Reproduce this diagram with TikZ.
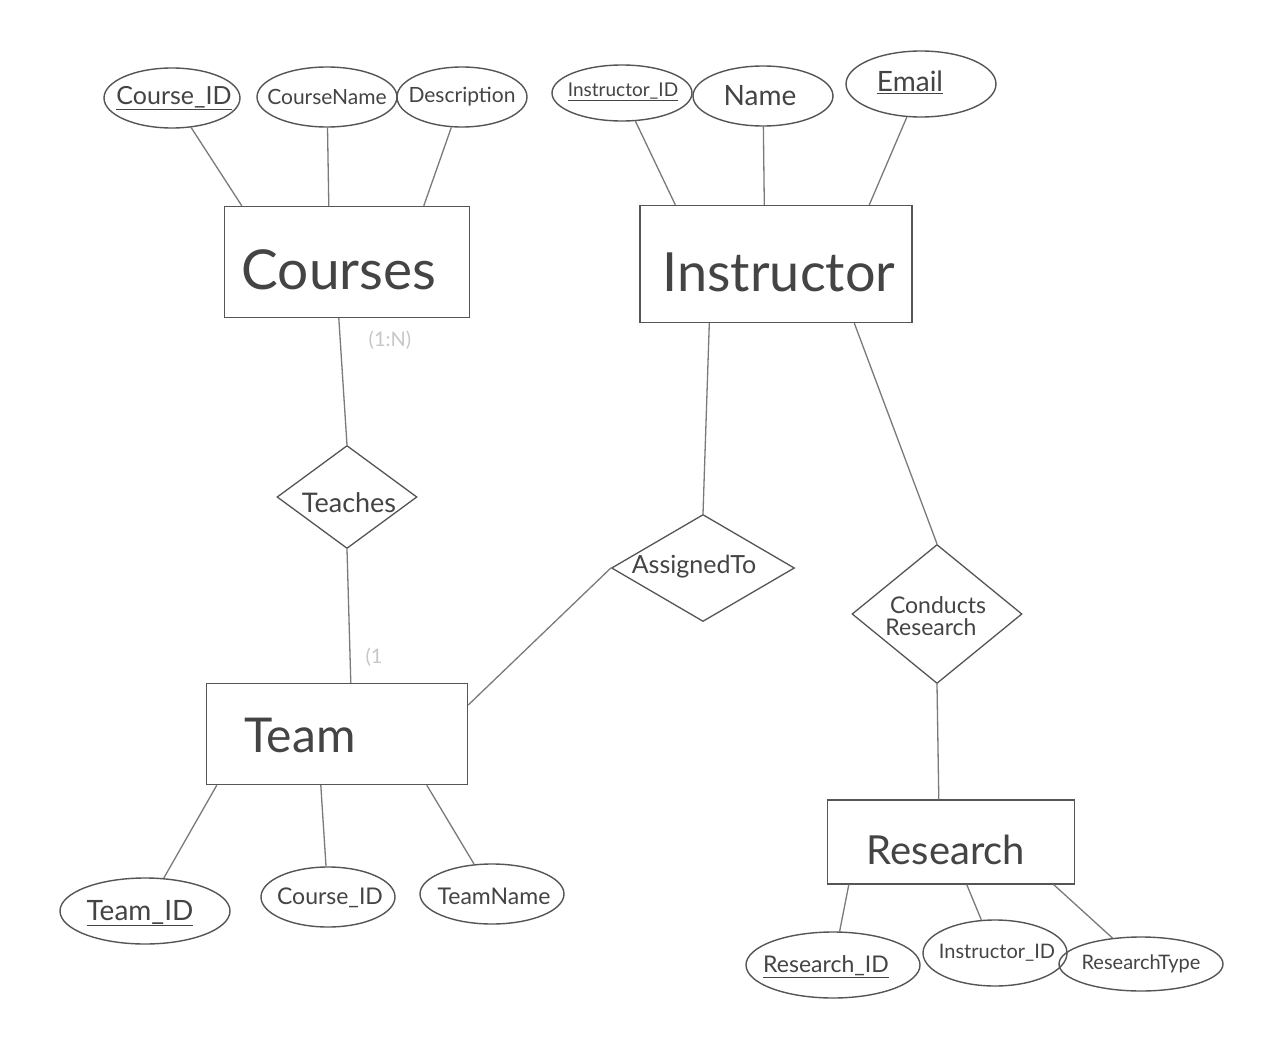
\documentclass[tikz,border=0pt]{standalone}
\usepackage{fontspec}
\setmainfont{Lato}
\usetikzlibrary{shapes.geometric,calc}
\newcommand\myfs[1]{\fontsize{#1}{#1}\selectfont}
\definecolor{pencil}{HTML}{555555}
\definecolor{lightpencil}{HTML}{7A7A7A}
\definecolor{inkt}{HTML}{444444}
\begin{document}
\begin{tikzpicture}[x=1pt,y=1pt,
  ent/.style={draw=pencil, line width=1.4pt, rectangle, inner sep=0pt},
  attr/.style={draw=pencil, line width=1.4pt, ellipse, inner sep=0pt},
  rel/.style={draw=pencil, line width=1.3pt, diamond, inner sep=0pt},
  txt/.style={text=inkt, inner sep=0pt},
  conn/.style={draw=lightpencil, line width=1.3pt},
  faint/.style={text=black!22, inner sep=0pt}]
\useasboundingbox[fill=white] (0,0) rectangle (1288,-1049);

% entities
\node[ent, minimum width=245, minimum height=111] (courses) at (347,-262) {};
\node[txt] (coursesT) at (339,-270) {\myfs{55}Courses};
\node[ent, minimum width=272, minimum height=117] (instr) at (776,-264) {};
\node[txt] (instrT) at (779,-272) {\myfs{54}Instructor};
\node[ent, minimum width=261, minimum height=101] (team) at (337,-734) {};
\node[txt] (teamT) at (300,-735) {\myfs{48}Team};
\node[ent, minimum width=247, minimum height=84] (research) at (951,-842) {};
\node[txt] (researchT) at (946,-850) {\myfs{40}Research};

% relationships
\node[rel, minimum width=140, minimum height=103] (teaches) at (347,-497) {};
\node[txt] (teachesT) at (349,-503) {\myfs{27}Teaches};
\node[rel, minimum width=183, minimum height=107] (assigned) at (703,-568) {};
\node[txt] (assignedT) at (694,-567) {\myfs{25}AssignedTo};
\node[rel, minimum width=170, minimum height=139] (conducts) at (937,-614) {};
\node[txt, align=center] (conductsT) at (931,-616) {\myfs{23}\hspace*{14pt}Conducts\\[4pt]\myfs{23}Research};

% Courses attributes
\node[attr, minimum width=136, minimum height=60] (ca1) at (172,-98) {};
\node[txt] (ca1T) at (174,-98) {\myfs{25}\underline{Course\_ID}};
\node[attr, minimum width=140, minimum height=60] (ca2) at (327,-97) {};
\node[txt] (ca2T) at (327,-97) {\myfs{21}CourseName};
\node[attr, minimum width=130, minimum height=60] (ca3) at (462,-97) {};
\node[txt] (ca3T) at (462,-97) {\myfs{21}Description};

% Instructor attributes
\node[attr, minimum width=140, minimum height=56] (ia1) at (622,-93) {};
\node[txt] (ia1T) at (623,-92) {\myfs{19}\underline{Instructor\_ID}};
\node[attr, minimum width=140, minimum height=60] (ia2) at (763,-96) {};
\node[txt] (ia2T) at (760,-96) {\myfs{28}Name};
\node[attr, minimum width=150, minimum height=66] (ia3) at (921,-84) {};
\node[txt] (ia3T) at (910,-82) {\myfs{28}\underline{Email}};

% Team attributes
\node[attr, minimum width=170, minimum height=66] (ta1) at (145,-911) {};
\node[txt] (ta1T) at (140,-913) {\myfs{28}\underline{Team\_ID}};
\node[attr, minimum width=134, minimum height=60] (ta2) at (328,-897) {};
\node[txt] (ta2T) at (330,-898) {\myfs{23}Course\_ID};
\node[attr, minimum width=144, minimum height=60] (ta3) at (492,-894) {};
\node[txt] (ta3T) at (494,-896) {\myfs{23}TeamName};

% Research attributes
\node[attr, minimum width=174, minimum height=66] (ra1) at (833,-965) {};
\node[txt] (ra1T) at (826,-967) {\myfs{23}\underline{Research\_ID}};
\node[attr, minimum width=144, minimum height=66] (ra2) at (995,-953) {};
\node[txt] (ra2T) at (997,-953) {\myfs{20}Instructor\_ID};
\node[attr, minimum width=164, minimum height=54] (ra3) at (1141,-964) {};
\node[txt] (ra3T) at (1141,-964) {\myfs{20}ResearchType};

% faint cardinalities
\node[faint] (card1) at (390,-340) {\myfs{20}(1:N)};
\node[faint] (card2) at (374,-657) {\myfs{20}(1};

% attribute connectors
\draw[conn] (ca1) -- ($(courses.north west)+(18,0)$);
\draw[conn] (ca2) -- ($(courses.north west)+(105,0)$);
\draw[conn] (ca3) -- ($(courses.north west)+(200,0)$);
\draw[conn] (ia1) -- ($(instr.north west)+(36,0)$);
\draw[conn] (ia2) -- ($(instr.north west)+(125,0)$);
\draw[conn] (ia3) -- ($(instr.north west)+(230,0)$);
\draw[conn] ($(team.south west)+(11,0)$) -- (ta1);
\draw[conn] ($(team.south west)+(115,0)$) -- (ta2);
\draw[conn] ($(team.south west)+(221,0)$) -- (ta3);
\draw[conn] ($(research.south west)+(22,0)$) -- (ra1);
\draw[conn] ($(research.south west)+(140,0)$) -- (ra2);
\draw[conn] ($(research.south west)+(227,0)$) -- (ra3);

% relationship connectors
\draw[conn] ($(courses.south west)+(115,0)$) -- (teaches.north);
\draw[conn] (teaches.south) -- ($(team.north west)+(145,0)$);
\draw[conn] ($(instr.south west)+(70,0)$) -- (assigned.north);
\draw[conn] (assigned.west) -- ($(team.east)+(0,29)$);
\draw[conn] ($(instr.south west)+(215,0)$) -- (conducts.north);
\draw[conn] (conducts.south) -- ($(research.north west)+(112,0)$);
\end{tikzpicture}
\end{document}
